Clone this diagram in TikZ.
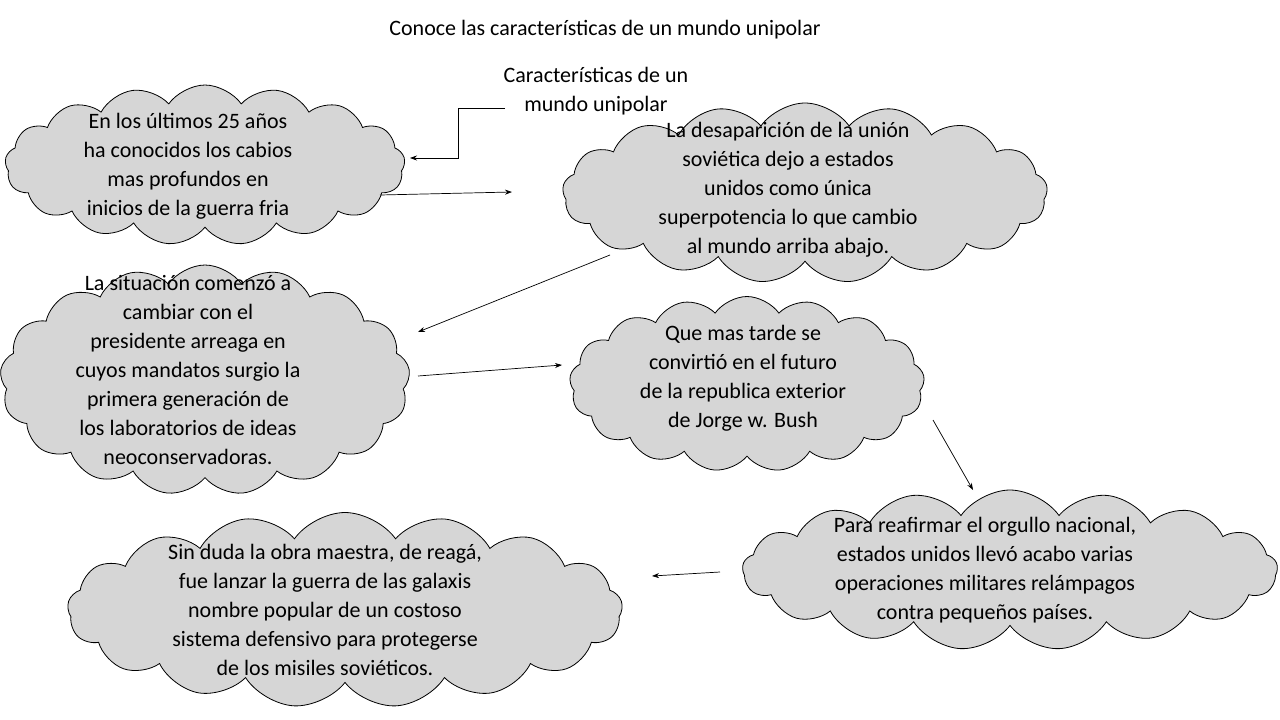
\documentclass[tikz,border=0pt]{standalone}
\usepackage{fontspec}
\setmainfont{Carlito}
\usetikzlibrary{shapes.symbols,arrows.meta}
\begin{document}
\begin{tikzpicture}[x=1pt,y=-1pt,
  cl/.style={cloud, cloud puffs=17, cloud puff arc=110, cloud ignores aspect, draw=black, line width=0.8pt, fill=gray!32, inner sep=0pt},
  ar/.style={-{Stealth[length=7pt,width=5pt]}, line width=0.7pt},
  txt/.style={align=center, font=\fontsize{22}{29}\selectfont}]
\useasboundingbox[fill=white] (0,0) rectangle (1280,720);
\node[txt] (title) at (605,30) {Conoce las características de un mundo unipolar};
\node[txt] (lab) at (596,91) {Características de un\\mundo unipolar};
\node[cl, minimum width=400pt, minimum height=160pt] (c1) at (205,165) {};
\node[txt] at (188,166) {En los últimos 25 años\\ha conocidos los cabios\\mas profundos en\\inicios de la guerra fria};
\node[cl, minimum width=485pt, minimum height=180pt] (c2) at (805,193) {};
\node[txt] at (788,190) {La desaparición de la unión\\soviética dejo a estados\\unidos como única\\superpotencia lo que cambio\\al mundo arriba abajo.};
\node[cl, minimum width=410pt, minimum height=230pt] (c3) at (205,380) {};
\node[txt] at (188,370) {La situación comenzó a\\cambiar con el\\presidente arreaga en\\cuyos mandatos surgio la\\primera generación de\\los laboratorios de ideas\\neoconservadoras.};
\node[cl, minimum width=355pt, minimum height=175pt] (c4) at (747,384) {};
\node[txt] at (743,378) {Que mas tarde se\\convirtió en el futuro\\de la republica exterior\\de Jorge w. Bush};
\node[cl, minimum width=535pt, minimum height=160pt] (c5) at (1010,570) {};
\node[txt] at (985,570) {Para reafirmar el orgullo nacional,\\estados unidos llevó acabo varias\\operaciones militares relámpagos\\contra pequeños países.};
\node[cl, minimum width=555pt, minimum height=195pt] (c6) at (345,610) {};
\node[txt] at (325,610) {Sin duda la obra maestra, de reagá,\\fue lanzar la guerra de las galaxis\\nombre popular de un costoso\\sistema defensivo para protegerse\\de los misiles soviéticos.};
\coordinate (a0) at (505,108);
\coordinate (a1) at (410,158);
\draw[ar] (a0) -- (458,108) -- (458,158) -- (a1);
\draw[ar] (380,195) -- (512,192);
\draw[ar] (610,255) -- (418,332);
\draw[ar] (418,376) -- (562,365);
\draw[ar] (933,420) -- (973,490);
\draw[ar] (720,572) -- (652,576);
\end{tikzpicture}
\end{document}
